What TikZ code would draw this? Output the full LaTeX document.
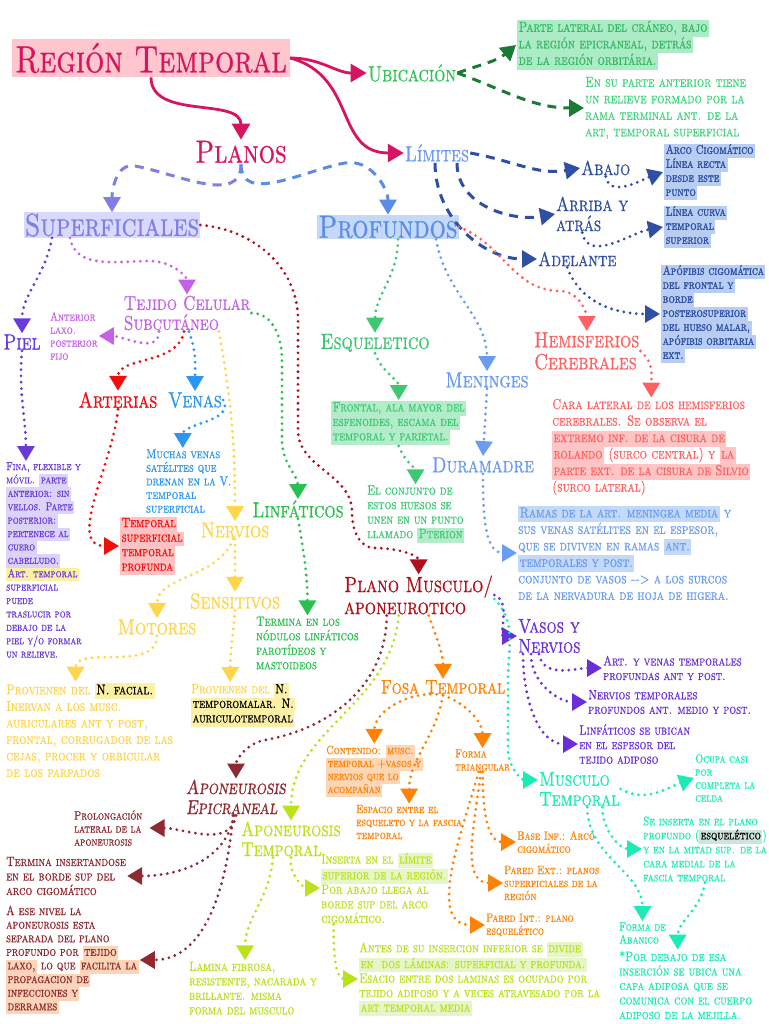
\documentclass[tikz,border=0pt]{standalone}
\usepackage{fontspec}
\newfontfamily\scf{lmromancaps10-regular.otf}[FakeStretch=0.8,FakeBold=0.7]
\newfontfamily\scfit{lmromancaps10-oblique.otf}[FakeStretch=0.8,FakeBold=0.7]
\newfontfamily\scfbf{lmromancaps10-regular.otf}[FakeStretch=0.8,FakeBold=1.8]
\usetikzlibrary{arrows.meta,positioning}
\definecolor{crim}{HTML}{D6145F}
\definecolor{titlebg}{HTML}{FFC6CD}
\definecolor{ubig}{HTML}{2DC653}
\definecolor{ubidk}{HTML}{1B7A35}
\definecolor{ubibg}{HTML}{ABEBC6}
\definecolor{ubit}{HTML}{35B863}
\definecolor{ubit2}{HTML}{45D47F}
\definecolor{limb}{HTML}{6B9BF2}
\definecolor{navyb}{HTML}{2F4FA2}
\definecolor{navybg}{HTML}{B8CDF3}
\definecolor{lav}{HTML}{7F7FE6}
\definecolor{lavbg}{HTML}{D9D9FF}
\definecolor{profb}{HTML}{5A8DE8}
\definecolor{profbg}{HTML}{C4D8F7}
\definecolor{piel}{HTML}{6A3BD9}
\definecolor{pielbg}{HTML}{DCD3FA}
\definecolor{tej}{HTML}{C462E6}
\definecolor{art}{HTML}{F20D0D}
\definecolor{artbg}{HTML}{FFC2C2}
\definecolor{ven}{HTML}{2B97F2}
\definecolor{nerv}{HTML}{FFD54A}
\definecolor{nervbg}{HTML}{FCF0A6}
\definecolor{linf}{HTML}{2BBF4F}
\definecolor{esq}{HTML}{3CC873}
\definecolor{esqbg}{HTML}{B3ECC9}
\definecolor{men}{HTML}{6A9CF2}
\definecolor{menbg}{HTML}{C4D8F7}
\definecolor{hem}{HTML}{FF6161}
\definecolor{hembg}{HTML}{FFC4C4}
\definecolor{plano}{HTML}{B0101E}
\definecolor{vas}{HTML}{6A2FD9}
\definecolor{musc}{HTML}{1DEBB5}
\definecolor{muscbg}{HTML}{CDE6DC}
\definecolor{fosa}{HTML}{FF8205}
\definecolor{fosabg}{HTML}{FDD7B5}
\definecolor{epi}{HTML}{8E2A30}
\definecolor{epibg}{HTML}{FCD5B8}
\definecolor{apot}{HTML}{B9E21B}
\definecolor{apotbg}{HTML}{E6F6C8}
\newcommand\hl[2]{{\fboxsep=0pt\colorbox{#1}{\strut\hspace{1.5pt}#2\hspace{1.5pt}}}}
\newcommand\hlk[2]{\hl{#1}{\color{black}#2}}
\tikzset{
  every node/.style={inner sep=1pt},
  big/.style={font=\scf\fontsize{32}{32}\selectfont},
  lbl/.style={font=\scf\fontsize{22}{22}\selectfont,align=left},
  sub/.style={font=\scf\fontsize{20}{20}\selectfont,align=left},
  txtL/.style={font=\scf\fontsize{14.5}{16.5}\selectfont,align=left,anchor=west},
  txt/.style={font=\scf\fontsize{13.5}{14.5}\selectfont,align=left,anchor=west},
  txtS/.style={font=\scf\fontsize{12}{13}\selectfont,align=left,anchor=west},
  txtB/.style={font=\scfbf\fontsize{12.5}{14}\selectfont,align=left,anchor=west},
  dotline/.style={line width=3.1pt,line cap=round,dash pattern=on 0pt off 6.3pt,-{Triangle[length=15pt,width=17pt]}},
  dashline/.style={line width=3pt,dash pattern=on 9pt off 7pt,-{Triangle[length=15pt,width=17pt]}},
  solidline/.style={line width=2.8pt,-{Triangle[length=16pt,width=18pt]}},
}
\begin{document}
\begin{tikzpicture}[x=1pt,y=1pt]
\fill[white] (0,0) rectangle (768,-1024);
\useasboundingbox (0,0) rectangle (768,-1024);

% title, first level
\node[fill=titlebg,text=crim,font=\scf\fontsize{38}{38}\selectfont,inner xsep=3pt,inner ysep=4pt] (title) at (151,-58) {Región Temporal};
\node[lbl,text=ubig] (ubic) at (412,-73) {Ubicación};
\node[lbl,text=limb] (limites) at (437,-153) {Límites};
\node[big,text=crim] (planos) at (241,-152) {Planos};
\node[big,fill=lavbg,text=lav] (sup) at (112,-225) {Superficiales};
\node[big,fill=profbg,text=profb] (prof) at (388,-227) {Profundos};

% ubicacion
\node[txtL,text=ubit] (ubicA) at (516,-45) {\hl{ubibg}{Parte lateral del cráneo, bajo}\\\hl{ubibg}{la región epicraneal, detrás}\\\hl{ubibg}{de la región orbitária.}};
\node[txtL,text=ubit2] (ubicB) at (584,-108) {En su parte anterior tiene\\un relieve formado por la\\rama terminal ant. de la\\art, temporal superficial};

% limites
\node[sub,text=navyb] (abajo) at (580,-168) [anchor=west] {Abajo};
\node[sub,text=navyb] (arriba) at (555,-214) [anchor=west] {Arriba y\\atrás};
\node[sub,text=navyb] (adelante) at (537,-259) [anchor=west] {Adelante};
\node[txtB,text=navyb] (abajoT) at (663,-172) {\hl{navybg}{Arco Cigomático}\\\hl{navybg}{Línea recta}\\\hl{navybg}{desde este}\\\hl{navybg}{punto}};
\node[txtB,text=navyb] (arribaT) at (663,-227) {\hl{navybg}{Línea curva}\\\hl{navybg}{temporal}\\\hl{navybg}{superior}};
\node[txtB,text=navyb] (adelanteT) at (660,-314) {\hl{navybg}{Apófibis cigomática}\\\hl{navybg}{del frontal y}\\\hl{navybg}{borde}\\\hl{navybg}{posterosuperior}\\\hl{navybg}{del hueso malar,}\\\hl{navybg}{apófibis orbitaria}\\\hl{navybg}{ext.}};

% superficiales
\node[lbl,text=piel] (piel) at (22,-342) {Piel};
\node[txtS,text=piel,font=\scf\fontsize{11.5}{13.4}\selectfont] (pielT) at (5,-560) {Fina, flexible y\\móvil. \hl{pielbg}{parte}\\\hl{pielbg}{anterior: sin}\\\hl{pielbg}{vellos. Parte}\\\hl{pielbg}{posterior:}\\\hl{pielbg}{pertenece al}\\\hl{pielbg}{cuero}\\\hl{pielbg}{cabelludo.}\\\hl{nervbg}{Art. temporal}\\superficial\\puede\\traslucir por\\debajo de la\\piel y/o formar\\un relieve.};
\node[sub,text=tej,align=left] (tejido) at (187,-313) {Tejido Celular\\Subcutáneo};
\node[txtS,text=tej] (tejT) at (49,-336) {Anterior\\laxo.\\posterior\\fijo};
\node[lbl,text=art] (arterias) at (118,-400) {Arterias};
\node[lbl,text=ven] (venas) at (195,-400) {Venas};
\node[txt,text=ven,font=\scf\fontsize{13}{13.6}\selectfont] (venasT) at (145,-481) {Muchas venas\\satélites que\\drenan en la V.\\temporal\\superficial};
\node[txt,text=art] (arteriasT) at (119,-546) {\hl{artbg}{Temporal}\\\hl{artbg}{superficial}\\\hl{artbg}{temporal}\\\hl{artbg}{profunda}};
\node[lbl,text=nerv] (nervios) at (235,-530) {Nervios};
\node[lbl,text=nerv] (sensit) at (235,-601) {Sensitivos};
\node[lbl,text=nerv] (motores) at (157,-627) {Motores};
\node[txtL,text=nerv] (motoresT) at (5,-730) {Provienen del \hlk{nervbg}{N. facial.}\\Inervan a los musc.\\auriculares ant y post,\\frontal, corrugador de las\\cejas, procer y orbicular\\de los parpados};
\node[txt,text=nerv] (sensitT) at (190,-705) {Provienen del \hlk{nervbg}{N.}\\\hlk{nervbg}{temporomalar. N.}\\\hlk{nervbg}{auriculotemporal}};
\node[lbl,text=linf] (linfa) at (298,-509) {Linfáticos};
\node[txt,text=linf] (linfaT) at (255,-643) {Termina en los\\nódulos linfáticos\\parotídeos y\\mastoideos};

% profundos
\node[lbl,text=esq] (esque) at (375,-343) {Esqueletico};
\node[txt,text=esq] (esqueT) at (330,-423) {\hl{esqbg}{Frontal, ala mayor del}\\\hl{esqbg}{esfenoides, escama del}\\\hl{esqbg}{temporal y parietal.}};
\node[txt,text=esq] (esqueT2) at (366,-514) {El conjunto de\\estos huesos se\\unen en un punto\\llamado \hl{esqbg}{Pterion}};
\node[lbl,text=men] (menin) at (487,-380) {Meninges};
\node[lbl,text=men] (dura) at (483,-465) {Duramadre};
\node[txtL,text=men] (duraT) at (517,-553) {\hl{menbg}{Ramas de la art. meningea media} y\\sus venas satélites en el espesor,\\que se diviven en ramas \hl{menbg}{ant.}\\\hl{menbg}{temporales y post.}\\conjunto de vasos -{}-{}> a los surcos\\de la nervadura de hoja de higera.};
\node[lbl,text=hem,anchor=west] (hemis) at (533,-351) {Hemisferios\\Cerebrales};
\node[txtL,text=hem] (hemisT) at (551,-447) {Cara lateral de los hemisferios\\cerebrales. Se observa el\\\hl{hembg}{extremo inf. de la cisura de}\\\hl{hembg}{rolando} (surco central) y \hl{hembg}{la}\\\hl{hembg}{parte ext. de la cisura de Silvio}\\(surco lateral)};

% plano musculo aponeurotico
\node[lbl,text=plano,anchor=west] (plano) at (343,-595) {Plano Musculo/\\aponeurotico};
\node[sub,text=vas,anchor=west] (vasos) at (517,-636) {Vasos y\\Nervios};
\node[txt,text=vas] (vasosA) at (602,-668) {Art. y venas temporales\\profundas ant y post.};
\node[txt,text=vas] (vasosB) at (587,-702) {Nervios temporales\\profundos ant. medio y post.};
\node[txt,text=vas] (vasosC) at (578,-744) {Linfáticos se ubican\\en el espesor del\\tejido adiposo};
\node[sub,text=musc,anchor=west] (musc) at (538,-789) {Musculo\\Temporal};
\node[txtS,text=musc] (muscA) at (694,-778) {Ocupa casi\\por\\completa la\\celda};
\node[txt,text=musc,font=\scf\fontsize{12.5}{14}\selectfont] (muscB) at (642,-849) {Se inserta en el plano\\profundo (\hlk{muscbg}{esquelético})\\y en la mitad sup. de la\\cara medial de la\\fascia temporal};
\node[txtS,text=musc] (muscC) at (618,-933) {Forma de\\Abanico};
\node[txt,text=musc] (muscD) at (618,-985) {*Por debajo de esa\\inserción se ubica una\\capa adiposa que se\\comunica con el cuerpo\\adiposo de la mejilla.};
\node[sub,text=fosa] (fosa) at (443,-687) {Fosa Temporal};
\node[txtS,text=fosa] (fosaA) at (325,-771) {Contenido: \hl{fosabg}{musc.}\\\hl{fosabg}{temporal +vasos y}\\\hl{fosabg}{nervios que lo}\\\hl{fosabg}{acompañan}};
\node[txtS,text=fosa] (fosaB) at (355,-822) {Espacio entre el\\esqueleto y la fascia\\temporal};
\node[txtS,text=fosa] (fosaC) at (454,-760) {Forma\\triangular};
\node[txtS,text=fosa] (fosaC1) at (516,-842) {Base Inf.: Arco\\cigomático};
\node[txtS,text=fosa] (fosaC2) at (503,-883) {Pared Ext.: planos\\superficiales de la\\región};
\node[txtS,text=fosa] (fosaC3) at (485,-925) {Pared Int.: plano\\esquelético};
\node[sub,text=epi,font=\scfit\fontsize{20}{20}\selectfont,anchor=west] (apoE) at (185,-797) {Aponeurosis\\Epicraneal};
\node[txtS,text=epi] (apoE1) at (73,-828) {Prolongación\\lateral de la\\aponeurosis};
\node[txt,text=epi] (apoE2) at (5,-876) {Termina insertandose\\en el borde sup del\\arco cigomático};
\node[txt,text=epi,font=\scf\fontsize{13}{13.6}\selectfont] (apoE3) at (5,-960) {A ese nivel la\\aponeurosis esta\\separada del plano\\profundo por \hl{epibg}{tejido}\\\hl{epibg}{laxo,} lo que \hl{epibg}{facilita la}\\\hl{epibg}{propagacion de}\\\hl{epibg}{infecciones y}\\\hl{epibg}{derrames}};
\node[sub,text=apot,anchor=west] (apoT) at (240,-839) {Aponeurosis\\Temporal};
\node[txt,text=apot] (apoT1) at (188,-988) {Lamina fibrosa,\\resistente, nacarada y\\brillante. misma\\forma del musculo};
\node[txt,text=apot] (apoT2) at (320,-888) {Inserta en el \hl{apotbg}{límite}\\\hl{apotbg}{superior de la región.}\\Por abajo llega al\\borde sup del arco\\cigomático.};
\node[txt,text=apot] (apoT3) at (358,-979) {Antes de su insercion inferior se \hl{apotbg}{divide}\\\hl{apotbg}{en\ \ dos láminas: superficial y profunda.}\\Esacio entre dos laminas es ocupado por\\tejido adiposo y a veces atravesado por la\\\hl{apotbg}{art temporal media}};

% solid arrows from title
\draw[solidline,crim] (title.east) to[out=0,in=180] (ubic.west);
\draw[solidline,crim] (title.east) to[out=-15,in=180,looseness=1.2] (limites.west);
\draw[solidline,crim] (title.south) to[out=-90,in=90] (planos.north);
% planos
\draw[dashline,lav] (planos.south) to[out=-90,in=-10] (135,-166) to[out=170,in=90] (sup.north);
\draw[dashline,profb] (planos.south) to[out=-90,in=190] (345,-163) to[out=10,in=90] (prof.north);
% ubicacion, limites
\draw[dashline,ubidk] (ubic.east) to[out=20,in=220] (ubicA.west);
\draw[dashline,ubidk] (ubic.east) to[out=-20,in=180] (ubicB.west);
\draw[dashline,navyb] (limites.east) to[out=-10,in=190] (abajo.west);
\draw[dashline,navyb] ([xshift=20pt]limites.south) to[out=-90,in=190] (arriba.west);
\draw[dashline,navyb] ([xshift=-2pt]limites.south) to[out=-90,in=180] (adelante.west);
\draw[dotline,navyb] (abajo.south) to[out=-80,in=200] (abajoT.west);
\draw[dotline,navyb] ([xshift=-10pt]arriba.south) to[out=-80,in=190] (arribaT.west);
\draw[dotline,navyb] ([xshift=-10pt]adelante.south) to[out=-70,in=180] (adelanteT.west);
% profundos
\draw[dotline,hem] (prof.east) to[out=-20,in=180] (560,-291) to[out=0,in=90] (hemis.north);
\draw[dotline,hem] (hemis.east) to[out=-40,in=90] (hemisT.north);
\draw[dotline,esq] ([xshift=10pt]prof.south) to[out=-90,in=90] (esque.north);
\draw[dotline,esq] (esque.south) to[out=-70,in=90] (esqueT.north);
\draw[dotline,esq] (esqueT.south) to[out=-70,in=90] (esqueT2.north);
\draw[dotline,men] ([xshift=48pt]prof.south) to[out=-80,in=90] (menin.north);
\draw[dotline,men] (menin.south) -- (dura.north);
\draw[dotline,men] (dura.south) to[out=-90,in=180] (duraT.west);
% superficiales
\draw[dotline,piel] ([xshift=-60pt]sup.south) to[out=-100,in=90] (piel.north);
\draw[dotline,piel] (piel.south) to[out=-95,in=90] ([xshift=-18pt]pielT.north);
\draw[dotline,tej] ([xshift=-42pt]sup.south) to[out=-80,in=180] (150,-261) to[out=0,in=90] (tejido.north);
\draw[dotline,tej] ([xshift=-28pt]tejido.south) to[out=-90,in=0] (tejT.east);
\draw[dotline,art] ([xshift=-3pt]tejido.south) to[out=-100,in=90] (arterias.north);
\draw[dotline,ven] ([xshift=2pt]tejido.south) to[out=-70,in=90] (venas.north);
\draw[dotline,ven] (venas.east) to[out=-60,in=90] ([xshift=-6pt]venasT.north);
\draw[dotline,art] (arterias.south) to[out=-95,in=180] (arteriasT.west);
\draw[dotline,nerv] ([xshift=32pt]tejido.south) to[out=-80,in=90] (nervios.north);
\draw[dotline,nerv] (nervios.south) -- (sensit.north);
\draw[dotline,nerv] ([xshift=-2pt]nervios.south) to[out=-110,in=90] (motores.north);
\draw[dotline,nerv] (motores.south) to[out=-90,in=90] ([xshift=-14pt]motoresT.north);
\draw[dotline,nerv] (sensit.south) to[out=-95,in=90] ([xshift=-13pt]sensitT.north);
\draw[dotline,linf] (tejido.east) to[out=0,in=90] (282,-360) -- (282,-440) to[out=-90,in=90] (linfa.north);
\draw[dotline,linf] (linfa.south) to[out=-80,in=90] (linfaT.north);
\draw[dotline,plano] (sup.east) to[out=-5,in=90] (298,-320) -- (298,-430) to[out=-90,in=90] (352,-512) to[out=-90,in=180] (375,-548) to[out=0,in=90] (plano.north);
% plano musculo aponeurotico
\draw[dotline,vas] (plano.east) to[out=-20,in=180] (vasos.west);
\draw[dotline,vas] ([xshift=22pt]vasos.south west) to[out=-80,in=180] (vasosA.west);
\draw[dotline,vas] ([xshift=14pt]vasos.south west) to[out=-90,in=180] (vasosB.west);
\draw[dotline,vas] ([xshift=6pt]vasos.south west) to[out=-90,in=180] (vasosC.west);
\draw[dotline,musc] ([yshift=-4pt]plano.east) to[out=-45,in=90] (508,-680) -- (508,-750) to[out=-90,in=180] ([yshift=9pt]musc.west);
\draw[dotline,musc] (musc.east) to[out=-30,in=200] (muscA.west);
\draw[dotline,musc] ([xshift=23pt]musc.south) to[out=-90,in=180] (muscB.west);
\draw[dotline,musc] ([xshift=8pt]musc.south) to[out=-90,in=90] (muscC.north);
\draw[dotline,musc] (muscB.south) to[out=-100,in=90] ([xshift=-8pt]muscD.north);
\draw[dotline,fosa] ([xshift=10pt]plano.south) to[out=-70,in=90] (fosa.north);
\draw[dotline,fosa] (fosa.south) to[out=170,in=90] (fosaA.north);
\draw[dotline,fosa] (fosa.south) to[out=-100,in=90] (fosaB.north);
\draw[dotline,fosa] (fosa.south) to[out=-20,in=90] (fosaC.north);
\draw[dotline,fosa] (fosaC.south) to[out=-90,in=180] (fosaC1.west);
\draw[dotline,fosa] ([xshift=-2pt]fosaC.south) to[out=-95,in=180] (fosaC2.west);
\draw[dotline,fosa] ([xshift=-4pt]fosaC.south) to[out=-105,in=180] (fosaC3.west);
\draw[dotline,epi] ([xshift=-32pt]plano.south) to[out=-90,in=10] (265,-740) to[out=190,in=90] (apoE.north);
\draw[dotline,epi] (apoE.south) to[out=-100,in=0] ([xshift=6pt]apoE1.east);
\draw[dotline,epi] ([xshift=-2pt]apoE.south) to[out=-100,in=0] (apoE2.east);
\draw[dotline,epi] ([xshift=-3pt]apoE.south) to[out=-95,in=0] (apoE3.east);
\draw[dotline,apot] ([xshift=-20pt]plano.south) to[out=-95,in=90] (apoT.north);
\draw[dotline,apot] ([xshift=-18pt]apoT.south) to[out=-95,in=90] ([xshift=-8pt]apoT1.north);
\draw[dotline,apot] (apoT.south) to[out=-100,in=180] (apoT2.west);
\draw[dotline,apot] ([xshift=-51pt]apoT2.south) to[out=-90,in=180] (apoT3.west);
\end{tikzpicture}
\end{document}
